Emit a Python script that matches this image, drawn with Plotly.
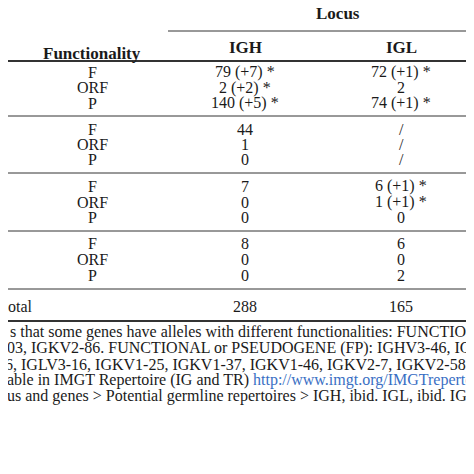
import plotly.graph_objects as go

func_labels = ["F", "ORF", "P", "F", "ORF", "P", "F", "ORF", "P", "F", "ORF", "P"]
igh_values = ["79 (+7) *", "2 (+2) *", "140 (+5) *", "44", "1", "0", "7", "0", "0", "8", "0", "0"]
igl_values = ["72 (+1) *", "2", "74 (+1) *", "/", "/", "/", "6 (+1) *", "1 (+1) *", "0", "6", "0", "2"]
total_label = "otal"
total_values = ["288", "165"]
footnotes = [
    "s that some genes have alleles with different functionalities: FUNCTIONAL",
    "03, IGKV2-86. FUNCTIONAL or PSEUDOGENE (FP): IGHV3-46, IGHV",
    "6, IGLV3-16, IGKV1-25, IGKV1-37, IGKV1-46, IGKV2-7, IGKV2-58, IG",
    "able in IMGT Repertoire (IG and TR) ",
    "us and genes > Potential germline repertoires > IGH, ibid. IGL, ibid. IGK",
]
footnote_x = [0, -3, -5, -3, -3]

FONT = "Liberation Serif"
C = "#1a1a1a"
W = H = 474
fig = go.Figure()
ann = []
def t(x, y, s, size=16, bold=False, anchor="center", color=C):
    ann.append(dict(x=x / W, y=1 - (y - 1) / H, xref="paper", yref="paper",
                    text=f"<b>{s}</b>" if bold else s, showarrow=False,
                    xanchor=anchor, yanchor="middle", font=dict(family=FONT, size=size, color=color)))

t(330, 7, "Locus", bold=True, size=17)
t(84, 46, "Functionality", bold=True, size=17)
t(237, 40, "IGH", bold=True, size=17)
t(393, 40, "IGL", bold=True, size=17)

row_y = [65, 81, 96, 122, 137, 152, 179, 195, 211, 236, 252, 268]
for i, y in enumerate(row_y):
    t(84, y, func_labels[i])
    t(237, y, igh_values[i])
    t(393, y, igl_values[i])
t(-2, 299, total_label, anchor="left")
t(237, 299, total_values[0])
t(393, 299, total_values[1])

fy = [325, 341, 357, 373, 389]
for i, s in enumerate(footnotes):
    if i == 3:
        s = s + '<span style="color:#3a6fc4">http://www.imgt.org/IMGTrepertoire</span>'
    t(footnote_x[i], fy[i], s, size=16, anchor="left")

shapes = []
def hl(y, x0=0, x1=474, w=1.5):
    shapes.append(dict(type="line", x0=x0, x1=x1, y0=y, y1=y, line=dict(color="#333", width=w)))
hl(23, 160, 474, 1)
hl(53, w=2)
for y in [108, 165, 223, 281]:
    hl(y, w=1)
hl(313, w=2)

fig.update_layout(width=W, height=H, margin=dict(l=0, r=0, t=0, b=0),
                  paper_bgcolor="white", plot_bgcolor="white",
                  xaxis=dict(range=[0, 474], visible=False),
                  yaxis=dict(range=[474, 0], visible=False),
                  annotations=ann, shapes=shapes, showlegend=False)
fig.write_html("out.html")
